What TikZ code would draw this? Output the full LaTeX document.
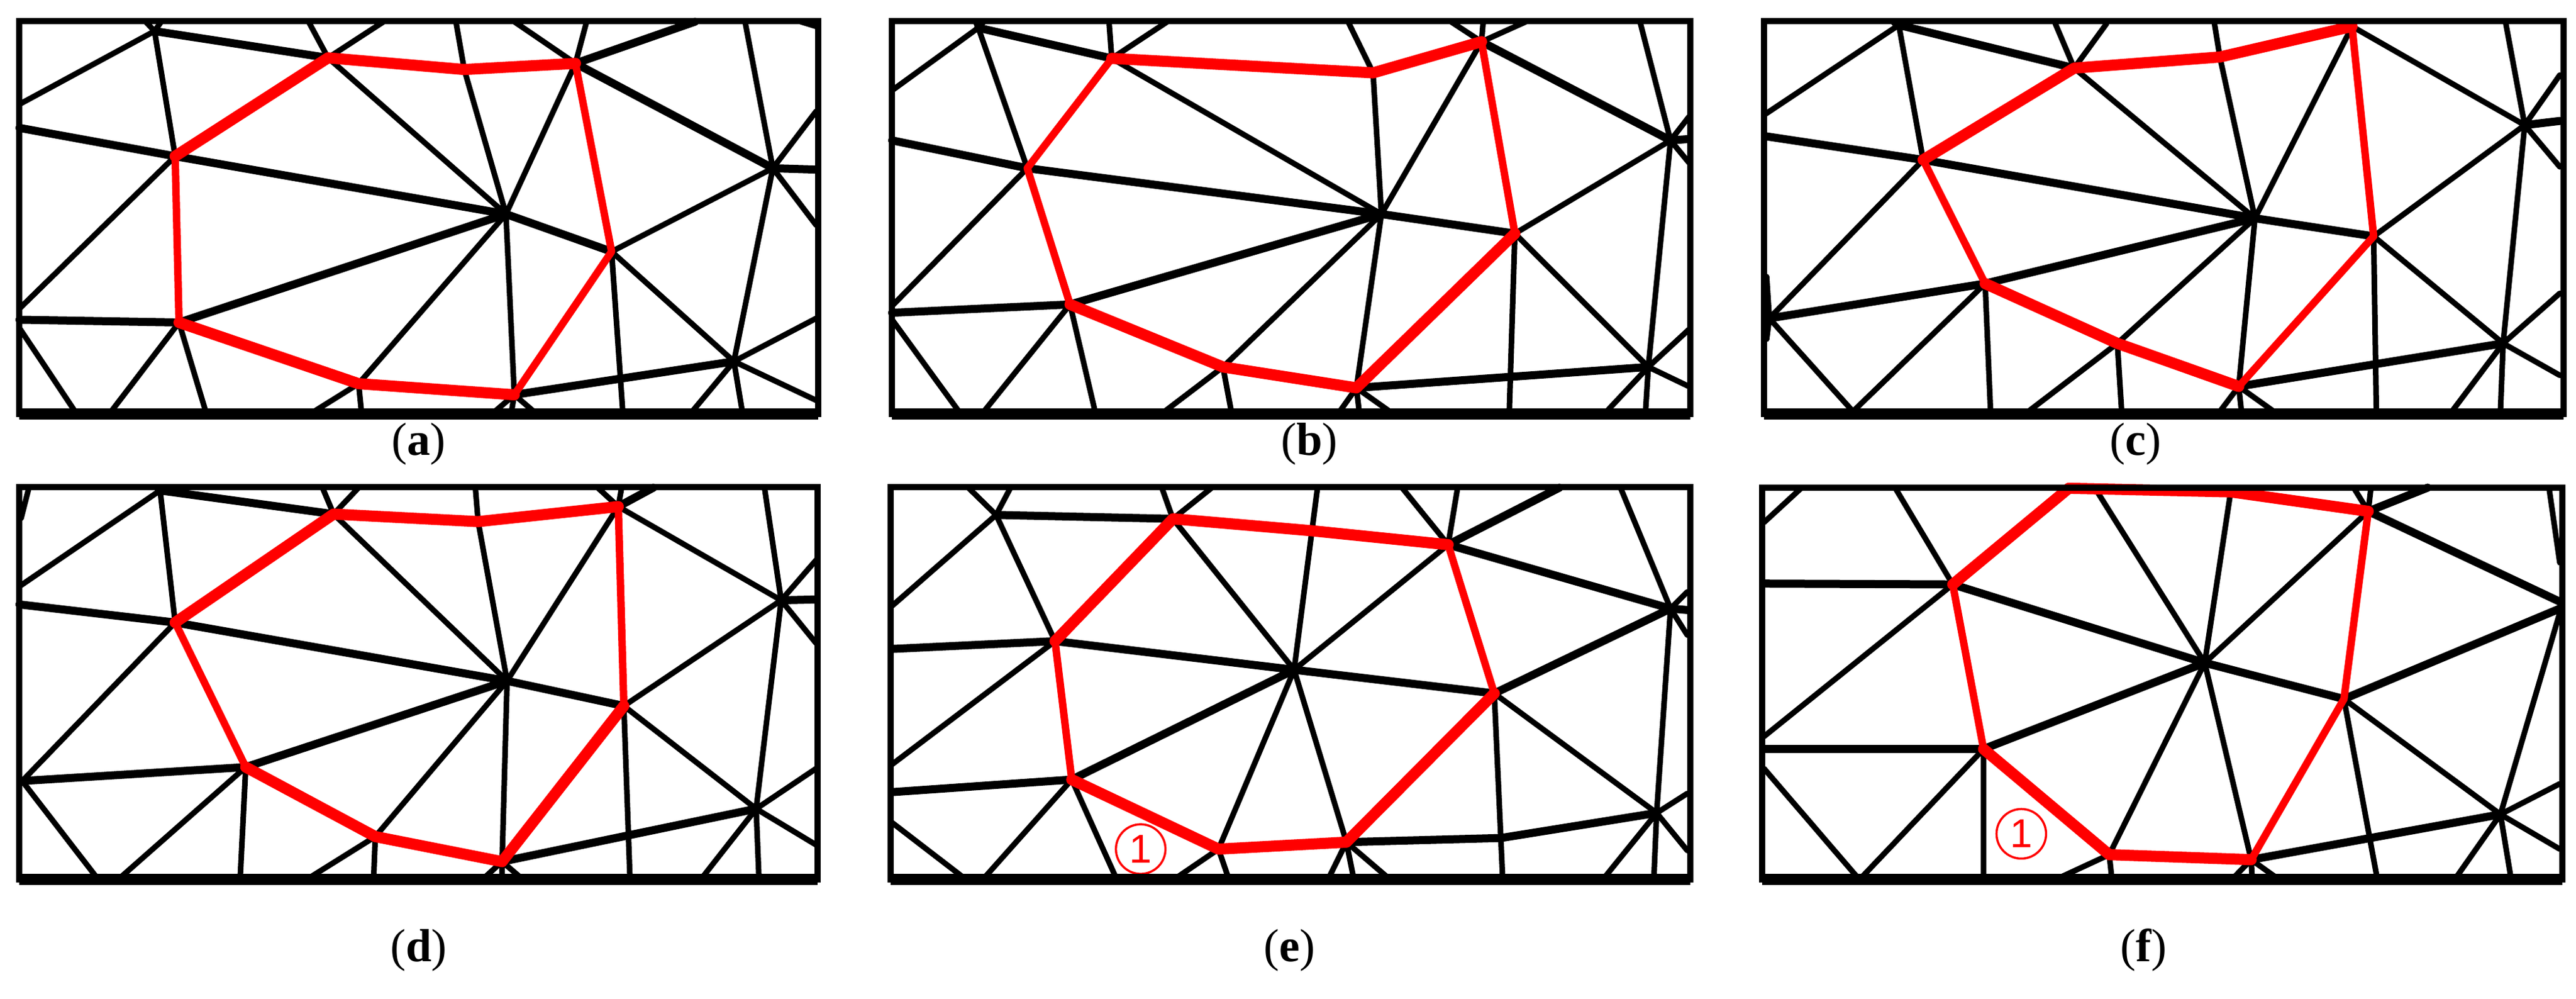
\documentclass[tikz,border=0pt]{standalone}
\usepackage{fontspec}
\setmainfont{Liberation Serif}
\newfontfamily\circfont{Liberation Sans}
\tikzset{
 e/.style={line width=0.9pt,line cap=round},
 te/.style={line width=1.3pt,line cap=round},
 r/.style={red,line width=1.2pt,line join=round,line cap=round},
 tr/.style={red,line width=1.8pt,line join=round,line cap=round},
 frm/.style={line width=1pt},
 lab/.style={font=\fontsize{7.5}{9}\selectfont,inner sep=0pt},
 one/.style={circle,draw=red,line width=0.35pt,text=red,inner sep=0pt,minimum size=8pt,font=\circfont\fontsize{6.5}{7}\selectfont}
}
\begin{document}
\begin{tikzpicture}
\useasboundingbox (0,0) rectangle (415.9pt,-161.1pt);
% ---------- (a)
\begin{scope}[shift={(0pt,0pt)},x={(0.08977pt,0)},y={(0,-0.04486pt)}]
\coordinate (a1) at (278,112);\coordinate (a2) at (590,208);\coordinate (a3) at (835,250);
\coordinate (a4) at (1035,228);\coordinate (a5) at (315,562);\coordinate (a6) at (910,770);
\coordinate (a7) at (1100,905);\coordinate (a8) at (1390,605);\coordinate (a9) at (322,1160);
\coordinate (a10) at (645,1380);\coordinate (a11) at (925,1420);\coordinate (a12) at (1320,1300);
\draw[e] (262,78)--(a1) (290,78)--(a1) (35,375)--(a1) (a1)--(a5) (555,78)--(a2) (690,78)--(a2)
 (820,78)--(a3) (925,78)--(a4) (1055,78)--(a4) (a4)--(a6) (a3)--(a6) (a2)--(a6) (a6)--(a10) (a6)--(a11)
 (a7)--(a8) (a7)--(a12) (a8)--(a12) (1468,400)--(a8) (1468,810)--(a8) (1340,78)--(a8) (35,1110)--(a5)
 (35,1180)--(135,1480) (200,1480)--(a9) (370,1480)--(a9) (565,1480)--(a10) (650,1480)--(a10)
 (890,1480)--(a11) (920,1480)--(a11) (960,1480)--(a11) (1120,1480)--(a7) (1245,1480)--(a12)
 (1335,1480)--(a12) (1468,1145)--(a12) (1468,1440)--(a12) (1440,78)--(1468,95);
\draw[te] (a1)--(a2) (a5)--(a6) (a6)--(a9) (a6)--(a7) (a4)--(a8) (a8)--(1468,610) (a11)--(a12)
 (35,1150)--(a9) (35,460)--(a5) (1250,78)--(a4);
\draw[r] (a2)--(a3)--(a4)--(a7)--(a11)--(a10)--(a9)--(a5)--cycle;
\draw[tr] (a5)--(a2)--(a3)--(a4) (a11)--(a10)--(a9);
\draw[frm] (35,75) rectangle (1472,1490);
\draw[line width=1.8pt] (35,1490)--(1472,1490);
\end{scope}
% ---------- (b)
\begin{scope}[shift={(140pt,0pt)},x={(0.08977pt,0)},y={(0,-0.04486pt)}]
\coordinate (b1) at (200,100);\coordinate (b2) at (440,210);\coordinate (b3) at (910,262);
\coordinate (b4) at (1105,150);\coordinate (b5) at (288,605);\coordinate (b6) at (925,770);
\coordinate (b7) at (1165,840);\coordinate (b8) at (1445,505);\coordinate (b9) at (365,1095);
\coordinate (b10) at (640,1320);\coordinate (b11) at (880,1395);\coordinate (b12) at (1405,1320);
\draw[e] (195,78)--(b1) (210,78)--(b1) (45,325)--(b1) (b1)--(b5) (435,78)--(b2) (540,78)--(b2)
 (865,78)--(b3) (1050,78)--(b4) (1108,78)--(b4) (1185,78)--(b4) (1390,78)--(b8) (b3)--(b6) (b4)--(b6)
 (b2)--(b6) (b6)--(b10) (b6)--(b11) (b7)--(b8) (b7)--(b12) (b8)--(b12) (1478,420)--(b8) (1478,585)--(b8)
 (45,1100)--(b5) (45,1150)--(165,1480) (210,1480)--(b9) (410,1480)--(b9) (535,1480)--(b10) (655,1480)--(b10)
 (850,1480)--(b11) (885,1480)--(b11) (940,1480)--(b11) (1155,1480)--(b7) (1330,1480)--(b12)
 (1400,1480)--(b12) (1478,1185)--(b12) (1478,1390)--(b12);
\draw[te] (b1)--(b2) (b5)--(b6) (b6)--(b9) (b6)--(b7) (b4)--(b8) (b8)--(1478,500) (b11)--(b12)
 (45,1125)--(b9) (45,505)--(b5);
\draw[r] (b2)--(b3)--(b4)--(b7)--(b11)--(b10)--(b9)--(b5)--cycle;
\draw[tr] (b2)--(b3)--(b4) (b7)--(b11)--(b10)--(b9);
\draw[frm] (45,75) rectangle (1480,1490);
\draw[line width=1.8pt] (45,1490)--(1480,1490);
\end{scope}
% ---------- (c)
\begin{scope}[shift={(280pt,0pt)},x={(0.08711pt,0)},y={(0,-0.04486pt)}]
\coordinate (c1) at (305,90);\coordinate (c2) at (630,245);\coordinate (c3) at (900,205);
\coordinate (c4) at (1145,95);\coordinate (c5) at (350,575);\coordinate (c6) at (965,785);
\coordinate (c7) at (1185,850);\coordinate (c8) at (1465,450);\coordinate (c9) at (465,1020);
\coordinate (c10) at (710,1235);\coordinate (c11) at (935,1390);\coordinate (c12) at (1425,1235);
\coordinate (c13) at (65,1145);
\draw[e] (295,82)--(c1) (58,410)--(c1) (c1)--(c5) (595,85)--(c2) (690,85)--(c2) (890,85)--(c3)
 (c3)--(c6) (c4)--(c6) (c2)--(c6) (c4)--(c8) (1430,85)--(c8) (c6)--(c10) (c6)--(c11) (c7)--(c8) (c7)--(c12)
 (c8)--(c12) (1530,270)--(c8) (1530,600)--(c8) (c13)--(c5) (c13)--(220,1480) (60,995)--(c13) (c13)--(60,1220)
 (220,1480)--(c9) (475,1480)--(c9) (545,1480)--(c10) (718,1480)--(c10) (900,1480)--(c11) (940,1480)--(c11)
 (1000,1480)--(c11) (1190,1480)--(c7) (1330,1480)--(c12) (1420,1480)--(c12) (1530,1055)--(c12) (1530,1350)--(c12);
\draw[te] (c1)--(c2) (c5)--(c6) (c6)--(c9) (c6)--(c7) (c11)--(c12) (c13)--(c9) (58,490)--(c5) (c8)--(1530,435);
\draw[r] (c2)--(c3)--(c4)--(c7)--(c11)--(c10)--(c9)--(c5)--cycle;
\draw[tr] (c5)--(c2)--(c3)--(c4) (c11)--(c10)--(c9);
\draw[frm] (55,75) rectangle (1537,1490);
\draw[line width=1.8pt] (55,1490)--(1537,1490);
\end{scope}
% ---------- (d)
\begin{scope}[shift={(0pt,-76pt)},x={(0.08977pt,0)},y={(0,-0.04486pt)}]
\coordinate (d1) at (288,70);\coordinate (d2) at (600,155);\coordinate (d3) at (860,182);
\coordinate (d4) at (1112,128);\coordinate (d5) at (315,545);\coordinate (d6) at (912,755);
\coordinate (d7) at (1122,845);\coordinate (d8) at (1405,465);\coordinate (d9) at (442,1065);
\coordinate (d10) at (675,1315);\coordinate (d11) at (903,1405);\coordinate (d12) at (1360,1215);
\coordinate (d13) at (40,1115);
\draw[e] (280,60)--(d1) (35,415)--(d1) (d1)--(d5) (580,60)--(d2) (645,60)--(d2) (855,60)--(d3)
 (1075,60)--(d4) (1118,60)--(d4) (1375,60)--(d8) (52,60)--(38,170) (d2)--(d6) (d3)--(d6) (d4)--(d6)
 (d4)--(d8) (d6)--(d10) (d6)--(d11) (d7)--(d8) (d7)--(d12) (d8)--(d12) (1468,320)--(d8) (1468,620)--(d8)
 (d13)--(d5) (d13)--(175,1465) (215,1465)--(d9) (432,1465)--(d9) (555,1465)--(d10) (672,1465)--(d10)
 (870,1465)--(d11) (903,1465)--(d11) (938,1465)--(d11) (1133,1465)--(d7) (1262,1465)--(d12) (1365,1465)--(d12)
 (1468,1070)--(d12) (1468,1345)--(d12);
\draw[te] (d1)--(d2) (d5)--(d6) (d6)--(d9) (d6)--(d7) (d11)--(d12) (d13)--(d9) (35,480)--(d5)
 (d8)--(1468,462) (1175,60)--(d4);
\draw[r] (d2)--(d3)--(d4)--(d7)--(d11)--(d10)--(d9)--(d5)--cycle;
\draw[tr] (d5)--(d2)--(d3)--(d4) (d7)--(d11)--(d10)--(d9);
\draw[frm] (35,57) rectangle (1470,1470);
\draw[line width=1.8pt] (35,1470)--(1470,1470);
\end{scope}
% ---------- (e)
\begin{scope}[shift={(140pt,-76pt)},x={(0.08977pt,0)},y={(0,-0.04486pt)}]
\coordinate (e1) at (232,158);\coordinate (e2) at (550,172);\coordinate (e3) at (800,215);
\coordinate (e4) at (1045,265);\coordinate (e5) at (338,612);\coordinate (e6) at (768,715);
\coordinate (e7) at (1128,800);\coordinate (e8) at (1445,495);\coordinate (e9) at (368,1110);
\coordinate (e10) at (632,1360);\coordinate (e11) at (862,1335);\coordinate (e12) at (1420,1230);
\draw[e] (182,60)--(e1) (258,60)--(e1) (45,485)--(e1) (e1)--(e5) (530,60)--(e2) (620,60)--(e2)
 (810,60)--(e3) (962,60)--(e4) (1062,60)--(e4) (1355,60)--(e8) (e2)--(e6) (e3)--(e6) (e4)--(e6)
 (e6)--(e10) (e6)--(e11) (e7)--(e12) (e8)--(e12) (1475,435)--(e8) (1475,590)--(e8) (45,1055)--(e5)
 (45,1265)--(175,1465) (210,1465)--(e9) (448,1465)--(e9) (555,1465)--(e10) (650,1465)--(e10)
 (830,1465)--(e11) (875,1465)--(e11) (938,1465)--(e11) (1143,1465)--(e7) (1325,1465)--(e12)
 (1415,1465)--(e12) (1475,1160)--(e12) (1475,1365)--(e12);
\draw[te] (e1)--(e2) (e5)--(e6) (e6)--(e9) (e6)--(e7) (e4)--(e8) (e7)--(e8) (e8)--(1475,500)
 (e11)--(1140,1320)--(e12) (45,640)--(e5) (45,1155)--(e9) (1245,60)--(e4);
\draw[r] (e2)--(e3)--(e4)--(e7)--(e11)--(e10)--(e9)--(e5)--cycle;
\draw[tr] (e5)--(e2)--(e3)--(e4) (e7)--(e11)--(e10)--(e9);
\node[one] (e1lab) at (492,1360) {1};
\draw[frm] (42,57) rectangle (1480,1470);
\draw[line width=1.8pt] (42,1470)--(1480,1470);
\end{scope}
% ---------- (f)
\begin{scope}[shift={(280pt,-76pt)},x={(0.08711pt,0)},y={(0,-0.04486pt)}]
\coordinate (f2) at (620,62);\coordinate (f3) at (920,75);
\coordinate (f4) at (1175,145);\coordinate (f5) at (405,408);\coordinate (f6) at (872,690);
\coordinate (f7) at (1130,820);\coordinate (f9) at (462,1000);
\coordinate (f10) at (695,1380);\coordinate (f11) at (958,1398);\coordinate (f12) at (1420,1235);
\draw[e] (125,60)--(55,185) (298,60)--(f5) (668,60)--(f6) (f3)--(f6) (1148,60)--(f4) (1180,60)--(f4)
 (1510,60)--(1530,330) (55,955)--(f5) (55,1070)--(232,1470) (232,1470)--(f9) (462,1470)--(f9)
 (595,1470)--(f10) (700,1470)--(f10) (922,1470)--(f11) (960,1470)--(f11) (1010,1470)--(f11)
 (1192,1470)--(f7) (1335,1470)--(f12) (1440,1470)--(f12) (1530,1125)--(f12) (1530,1360)--(f12)
 (f4)--(f6) (f6)--(f10) (f6)--(f11) (f7)--(f12) (1530,510)--(f12);
\draw[te] (f5)--(f6) (f6)--(f9) (f6)--(f7) (f11)--(f12) (f4)--(1530,470) (f7)--(1530,495)
 (55,405)--(f5) (55,1000)--(f9) (1285,60)--(f4);
\draw[r] (f2)--(f3)--(f4)--(f7)--(f11)--(f10)--(f9)--(f5)--cycle;
\draw[tr] (f5)--(f2)--(f3)--(f4) (f11)--(f10)--(f9);
\node[one] (f1lab) at (532,1305) {1};
\draw[frm] (52,60) rectangle (1535,1470);
\draw[line width=1.8pt] (52,1470)--(1535,1470);
\end{scope}
% labels
\node[lab] (la) at (67.6pt,-71.6pt) {(\textbf{a})};
\node[lab] (lb) at (211.4pt,-71.6pt) {(\textbf{b})};
\node[lab] (lc) at (344.8pt,-71.6pt) {(\textbf{c})};
\node[lab] (ld) at (67.6pt,-153.3pt) {(\textbf{d})};
\node[lab] (le) at (208.2pt,-153.3pt) {(\textbf{e})};
\node[lab] (lf) at (346.1pt,-153.3pt) {(\textbf{f})};
\end{tikzpicture}
\end{document}
